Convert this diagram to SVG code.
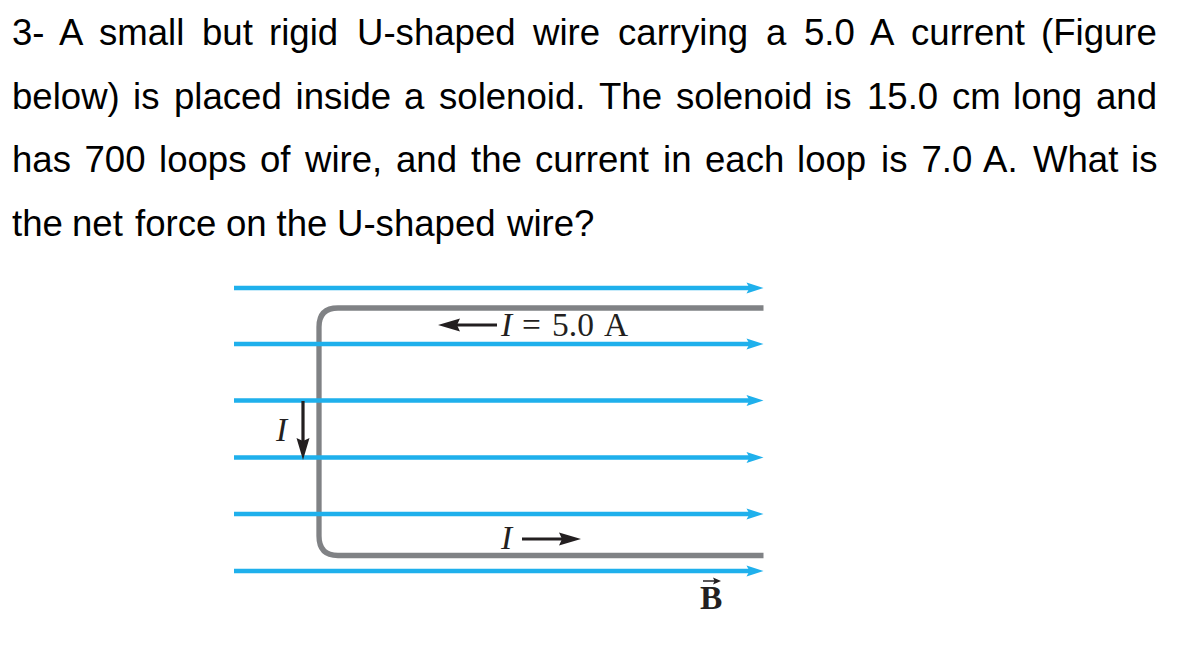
<svg xmlns="http://www.w3.org/2000/svg" width="1190" height="645" viewBox="0 0 1190 645">
<style>
.t{font-family:"Liberation Sans",Arial,sans-serif;font-size:36.6px;fill:#000}
.b{stroke:#1fb0ec;stroke-width:4.6;fill:none}
.h{fill:#1fb0ec}
.k{stroke:#231f20;stroke-width:3.2;fill:none}
.a{fill:#231f20}
.s{font-family:"Liberation Serif","Times New Roman",serif;font-size:33.5px;fill:#231f20}
</style>
<rect width="1190" height="645" fill="#fff"/>
<g id="question">
<text class="t" y="45"><tspan x="12">3- </tspan><tspan x="59">A </tspan><tspan x="99">small </tspan><tspan x="202">but </tspan><tspan x="269">rigid </tspan><tspan x="357">U-shaped </tspan><tspan x="533">wire </tspan><tspan x="618">carrying </tspan><tspan x="766">a </tspan><tspan x="804">5.0 </tspan><tspan x="870">A </tspan><tspan x="911">current </tspan><tspan x="1041">(Figure</tspan></text>
<text class="t" y="109"><tspan x="12">below) </tspan><tspan x="133">is </tspan><tspan x="174">placed </tspan><tspan x="295.5">inside </tspan><tspan x="404">a </tspan><tspan x="439">solenoid. </tspan><tspan x="599">The </tspan><tspan x="676">solenoid </tspan><tspan x="825">is </tspan><tspan x="867">15.0 </tspan><tspan x="952">cm </tspan><tspan x="1013">long </tspan><tspan x="1096">and</tspan></text>
<text class="t" y="172"><tspan x="12">has </tspan><tspan x="84.5">700 </tspan><tspan x="159">loops </tspan><tspan x="260">of </tspan><tspan x="305">wire, </tspan><tspan x="396">and </tspan><tspan x="471">the </tspan><tspan x="535">current </tspan><tspan x="663">in </tspan><tspan x="705">each </tspan><tspan x="797">loop </tspan><tspan x="881">is </tspan><tspan x="921.5">7.0 </tspan><tspan x="983">A. </tspan><tspan x="1033">What </tspan><tspan x="1131">is</tspan></text>
<text class="t" y="236"><tspan x="12">the </tspan><tspan x="72">net </tspan><tspan x="135">force </tspan><tspan x="226">on </tspan><tspan x="276.5">the </tspan><tspan x="337">U-shaped </tspan><tspan x="507">wire?</tspan></text>
</g>
<g id="connectors">
<path id="wire" d="M763.500 308H338Q319 308 319 327V536Q319 555.5 338 555.5H763.500" fill="none" stroke="#808285" stroke-width="5.3"/>
<path class="b" d="M234 288H750M234 344H750M234 400.500H750M234 457.500H750M234 514H750M234 571H750"/>
<path class="h" d="M763.500 288l-17-5.500 3 5.500-3 5.500zM763.500 344l-17-5.500 3 5.500-3 5.500zM763.500 400.500l-17-5.500 3 5.500-3 5.500zM763.500 457.500l-17-5.500 3 5.500-3 5.500zM763.500 514l-17-5.500 3 5.500-3 5.500zM763.500 571l-17-5.500 3 5.500-3 5.500z"/>
<path class="k" d="M497 325H455M303 401V445M522 539H566"/>
<path class="a" d="M438 325l22-6.500-3 6.500 3 6.500zM303 460l-6.500-22 6.500 3 6.500-3zM581 539l-22-6.500 3 6.500-3 6.500z"/>
<path d="M703 581H717" stroke="#231f20" stroke-width="1.500"/><path class="a" d="M721 581l-8-3.500 1.500 3.500-1.500 3.500z"/>
</g>
<text class="s" y="336"><tspan x="501" font-style="italic">I </tspan><tspan x="522">= </tspan><tspan x="552">5.0 </tspan><tspan x="604">A</tspan></text>
<text class="s" x="276" y="441" font-style="italic">I</text>
<text class="s" x="501" y="549" font-style="italic">I</text>
<text class="s" x="700" y="609" font-weight="bold" font-size="34">B</text>
</svg>
